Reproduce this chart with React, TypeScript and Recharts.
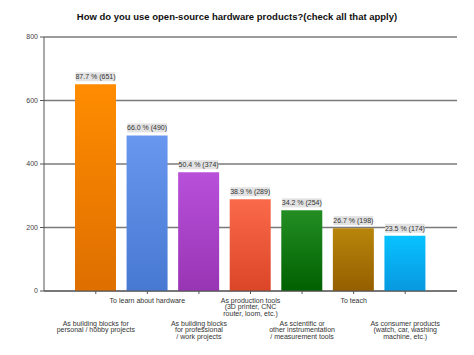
import React from 'react'
import { BarChart, Bar, XAxis, YAxis, CartesianGrid, LabelList, Cell } from 'recharts'

const categories = [
  ['As building blocks for', 'personal / hobby projects'],
  ['To learn about hardware'],
  ['As building blocks', 'for professional', '/ work projects'],
  ['As production tools', '(3D printer, CNC', 'router, loom, etc.)'],
  ['As scientific or', 'other instrumentation', '/ measurement tools'],
  ['To teach'],
  ['As consumer products', '(watch, car, washing', 'machine, etc.)'],
]
const counts = [651, 490, 374, 289, 254, 198, 174]
const percents = [87.7, 66.0, 50.4, 38.9, 34.2, 26.7, 23.5]
const yTicks = [0, 200, 400, 600, 800]

const colors: [string, string][] = [
  ['#ff8c00', '#de6f00'],
  ['#6797ee', '#4879d2'],
  ['#b850da', '#9835b4'],
  ['#fa6a4a', '#dc4528'],
  ['#238e23', '#006000'],
  ['#b8860b', '#955e00'],
  ['#08c2ff', '#0898e0'],
]

const data = categories.map((lines, i) => ({
  name: lines.join(' '),
  lines,
  value: counts[i],
  label: `${percents[i].toFixed(1)} % (${counts[i]})`,
}))

const FONT = '"Liberation Sans", Arial, sans-serif'

function CategoryTick({ x, y, payload }: any) {
  const i = payload.index
  const lines = categories[i]
  const base = i % 2 === 1 ? y + 6.5 : y + 29.5
  return (
    <g>
      {lines.map((l, k) => (
        <text key={k} x={x} y={base + k * 6.6} textAnchor="middle" fontSize={7} fill="#333" fontFamily={FONT}>
          {l}
        </text>
      ))}
    </g>
  )
}

function ValueLabel({ x, y, width, value }: any) {
  const cx = x + width / 2
  const w = value.length * 3.3
  return (
    <g>
      <rect x={cx - w / 2} y={y - 12} width={w} height={9} fill="#e2e2e2" />
      <text x={cx} y={y - 5} textAnchor="middle" fontSize={7} fill="#333" fontFamily={FONT}>
        {value}
      </text>
    </g>
  )
}

export default function App() {
  return (
    <div style={{ position: 'absolute', left: 0, top: 0, width: 474, height: 355, background: '#fff', fontFamily: FONT }}>
      <div style={{ position: 'absolute', top: 11, width: 474, textAlign: 'center', fontSize: 9.5, fontWeight: 'bold', color: '#111' }}>
        How do you use open-source hardware products?(check all that apply)
      </div>
      <BarChart width={474} height={355} data={data} margin={{ top: 37, right: 17, bottom: 0, left: 14 }} barCategoryGap={10}>
        <defs>
          {colors.map(([a, b], i) => (
            <linearGradient key={i} id={`g${i}`} x1="0" y1="0" x2="0" y2="1">
              <stop offset="0%" stopColor={a} />
              <stop offset="100%" stopColor={b} />
            </linearGradient>
          ))}
        </defs>
        <CartesianGrid vertical={false} stroke="#7a7a7a" strokeWidth={1.3} />
        <XAxis
          dataKey="name"
          interval={0}
          padding={{ left: 26, right: 26 }}
          tick={<CategoryTick />}
          tickSize={3}
          tickMargin={2}
          stroke="#555"
          tickLine={{ stroke: '#555' }}
          height={64}
        />
        <YAxis
          domain={[0, 800]}
          ticks={yTicks}
          width={30}
          tickSize={4}
          tickMargin={2}
          stroke="#555"
          tick={{ fontSize: 7, fill: '#444', fontFamily: FONT }}
        />
        <Bar dataKey="value" barSize={41} isAnimationActive={false}>
          {data.map((d, i) => (
            <Cell key={i} fill={`url(#g${i})`} />
          ))}
          <LabelList dataKey="label" content={<ValueLabel />} />
        </Bar>
      </BarChart>
    </div>
  )
}
